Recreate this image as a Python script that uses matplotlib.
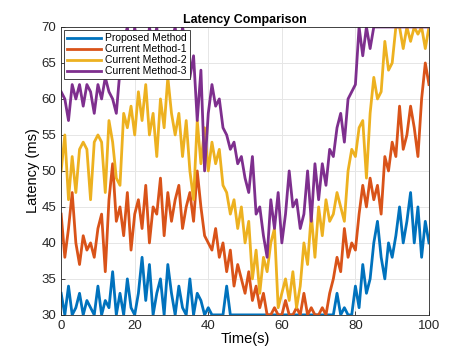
import numpy as np
import matplotlib
matplotlib.use('Agg')
import matplotlib.pyplot as plt

plt.rcParams['font.family'] = ['Liberation Sans', 'DejaVu Sans']

# time axis, 1 s steps
t = np.arange(0, 101)

proposed = [33, 30, 34, 30, 31, 33, 30, 32, 31, 30,
            34, 30, 32, 31, 36, 30, 33, 30, 35, 31,
            30, 33, 38, 32, 37, 30, 33, 35, 30, 37,
            33, 30, 34, 31, 30, 35, 30, 33, 32, 30,
            31, 30, 30, 30, 30, 34, 30, 30, 30, 30,
            30, 30, 30, 30, 30, 30, 30, 30, 30, 30,
            30, 30, 30, 30, 30, 30, 30, 30, 30, 30,
            30, 30, 30, 30, 30, 33, 30, 31, 30, 30,
            34, 31, 37, 33, 35, 40, 43, 38, 35, 40,
            38, 41, 45, 40, 43, 47, 40, 45, 38, 43, 40]

current1 = [44, 38, 42, 47, 40, 37, 41, 39, 40, 38,
            42, 44, 36, 46, 51, 43, 45, 41, 47, 39,
            44, 46, 42, 48, 40, 45, 44, 49, 41, 47,
            43, 46, 48, 42, 45, 47, 43, 50, 45, 41,
            40, 39, 42, 38, 40, 36, 39, 34, 37, 35,
            33, 36, 32, 34, 31, 33, 30, 30, 31, 30,
            30, 32, 30, 30, 31, 30, 33, 30, 31, 30,
            30, 31, 30, 33, 35, 38, 36, 42, 38, 40,
            39, 44, 48, 45, 49, 46, 48, 44, 52, 50,
            54, 52, 59, 53, 55, 59, 56, 52, 60, 65, 62]

current2 = [50, 55, 46, 52, 47, 53, 54, 53, 46, 54,
            55, 54, 47, 57, 54, 49, 48, 58, 56, 59,
            55, 61, 57, 62, 55, 58, 52, 60, 56, 63,
            58, 55, 58, 52, 57, 50, 46, 57, 51, 56,
            50, 54, 51, 53, 48, 47, 44, 46, 42, 45,
            40, 43, 35, 39, 33, 38, 36, 40, 42, 31,
            33, 35, 32, 36, 31, 34, 40, 37, 44, 38,
            45, 41, 46, 43, 44, 47, 45, 43, 50, 53,
            52, 56, 57, 49, 58, 63, 60, 61, 68, 64,
            65, 70, 70, 67, 70, 68, 70, 69, 70, 67, 70]

current3 = [61, 60, 57, 62, 60, 62, 59, 62, 61, 58,
            62, 60, 63, 61, 60, 58, 64, 68, 70, 65,
            70, 66, 69, 64, 70, 67, 70, 63, 66, 64,
            68, 70, 65, 70, 67, 63, 66, 57, 64, 50,
            58, 62, 59, 60, 56, 55, 53, 54, 51, 52,
            49, 47, 52, 44, 45, 41, 38, 46, 42, 47,
            40, 44, 50, 45, 46, 42, 44, 50, 43, 51,
            46, 51, 48, 53, 52, 56, 58, 54, 60, 61,
            62, 70, 66, 70, 67, 70, 70, 70, 70, 70,
            70, 70, 70, 70, 70, 70, 70, 70, 70, 70, 70]

labels = ['Proposed Method', 'Current Method-1', 'Current Method-2', 'Current Method-3']
colors = ['#0072BD', '#D95319', '#EDB120', '#7E2F8E']

fig = plt.figure(figsize=(4.74, 3.55), dpi=100)
ax = fig.add_axes([0.129, 0.113, 0.776, 0.811])

for y, lab, c in zip([proposed, current1, current2, current3], labels, colors):
    ax.plot(t, y, color=c, lw=2, label=lab)

ax.set_xlim(0, 100)
ax.set_ylim(30, 70)
ax.set_xticks(np.arange(0, 101, 20))
ax.set_yticks(np.arange(30, 71, 5))
ax.grid(True, color='#e6e6e6', lw=0.7)
ax.set_axisbelow(True)
for s in ax.spines.values():
    s.set_color('#262626')
    s.set_linewidth(0.6)
ax.tick_params(labelsize=9.5, direction='in', length=3, width=0.6, colors='#262626')

ax.set_title('Latency Comparison', fontsize=9, fontweight='bold', pad=3)
ax.set_xlabel('Time(s)', fontsize=10.5, labelpad=0)
ax.set_ylabel('Latency (ms)', fontsize=10.5, labelpad=1)

leg = ax.legend(loc='upper left', fontsize=7.5, handlelength=3.2, borderaxespad=0.3,
                handletextpad=0.4, labelspacing=0.1, borderpad=0.3, fancybox=False,
                framealpha=1, edgecolor='#262626')
leg.get_frame().set_linewidth(0.6)

fig.savefig('out.png', dpi=100)
